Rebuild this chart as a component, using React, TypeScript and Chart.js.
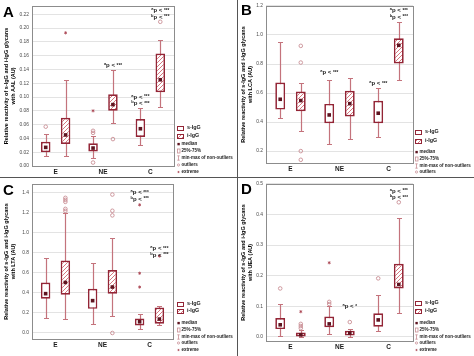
import React, { useEffect, useRef } from 'react';
import { Chart, registerables } from 'chart.js';
Chart.register(...registerables);

// ---------- data ----------
const categories = ['E', 'NE', 'C'];
const seriesNames = ['s-IgG', 'i-IgG'];

// Panel A — AAL
const aalS_q1 = [0.020, 0.021, 0.042];
const aalS_med = [0.027, 0.026, 0.054];
const aalS_q3 = [0.035, 0.033, 0.068];
const aalS_lo = [0.014, 0.011, 0.030];
const aalS_hi = [0.047, 0.043, 0.084];
const aalS_out = [[0.057], [0.051, 0.048, 0.005], []];
const aalS_ext = [[], [0.080], []];
const aalI_q1 = [0.032, 0.080, 0.107];
const aalI_med = [0.045, 0.089, 0.125];
const aalI_q3 = [0.070, 0.104, 0.163];
const aalI_lo = [0.014, 0.062, 0.085];
const aalI_hi = [0.125, 0.139, 0.182];
const aalI_out = [[], [0.039], [0.209]];
const aalI_ext = [[0.193], [], []];

// Panel B — LCA
const lcaS_q1 = [0.486, 0.392, 0.392];
const lcaS_med = [0.557, 0.449, 0.461];
const lcaS_q3 = [0.673, 0.525, 0.547];
const lcaS_lo = [0.429, 0.250, 0.300];
const lcaS_hi = [0.950, 0.689, 0.634];
const lcaS_out = [[], [], []];
const lcaS_ext = [[], [], []];
const lcaI_q1 = [0.475, 0.438, 0.803];
const lcaI_med = [0.548, 0.527, 0.929];
const lcaI_q3 = [0.610, 0.616, 0.977];
const lcaI_lo = [0.340, 0.285, 0.690];
const lcaI_hi = [0.670, 0.707, 1.090];
const lcaI_out = [[0.925, 0.810, 0.200, 0.140], [], []];
const lcaI_ext = [[], [], []];

// Panel C — LTA
const ltaS_q1 = [0.343, 0.241, 0.075];
const ltaS_med = [0.393, 0.323, 0.112];
const ltaS_q3 = [0.505, 0.442, 0.145];
const ltaS_lo = [0.145, 0.092, 0.036];
const ltaS_hi = [0.752, 0.696, 0.185];
const ltaS_out = [[], [], []];
const ltaS_ext = [[], [], [0.459, 0.597, 1.280]];
const ltaI_q1 = [0.383, 0.393, 0.092];
const ltaI_med = [0.505, 0.459, 0.139];
const ltaI_q3 = [0.723, 0.630, 0.254];
const ltaI_lo = [0.139, 0.168, 0.079];
const ltaI_hi = [1.200, 0.944, 0.274];
const ltaI_out = [[1.22, 1.24, 1.31, 1.33, 1.35], [1.383, 1.221, 1.175, 0.0], []];
const ltaI_ext = [[], [], [0.769]];

// Panel D — UEA
const ueaS_q1 = [0.025, 0.031, 0.0325];
const ueaS_med = [0.039, 0.042, 0.055];
const ueaS_q3 = [0.061, 0.066, 0.077];
const ueaS_lo = [0.003, 0.009, 0.0195];
const ueaS_hi = [0.106, 0.101, 0.137];
const ueaS_out = [[0.158], [0.114, 0.107], [0.191]];
const ueaS_ext = [[], [0.242], []];
const ueaI_q1 = [0.001, 0.004, 0.158];
const ueaI_med = [0.0065, 0.012, 0.171];
const ueaI_q3 = [0.014, 0.0195, 0.239];
const ueaI_lo = [0.0, 0.0, 0.076];
const ueaI_hi = [0.023, 0.026, 0.388];
const ueaI_out = [[0.042, 0.035, 0.028], [0.048], [0.44]];
const ueaI_ext = [[0.082], [], []];

const legendLabels = ['median', '25%-75%', 'min-max of non-outliers', 'outliers', 'extreme'];

// ---------- styling ----------
const FONT = "'Liberation Sans', Arial, sans-serif";
const W = 237;
const H = 178;
const BOX = '#932536';
const WHISK = '#c4737c';
const MED = '#5e1420';
const OUTC = '#c98f95';
const EXTC = '#a8404e';

type Series = { q1: number[]; med: number[]; q3: number[]; lo: number[]; hi: number[]; out: number[][]; ext: number[][] };
type Note = { cat: number; ser: number; sups: string[]; stars: string; gap?: number };
type Panel = {
  letter: string; lectin: string; s: Series; i: Series;
  min: number; max: number; step: number; dec: number;
  area: { left: number; right: number; top: number; bottom: number };
  legendY: number[]; legendX: number; showExtreme: boolean; notes: Note[];
  pos: { x: number; y: number }; letterX: number; letterY: number;
};

const panels: Panel[] = [
  {
    letter: 'A', lectin: 'AAL',
    s: { q1: aalS_q1, med: aalS_med, q3: aalS_q3, lo: aalS_lo, hi: aalS_hi, out: aalS_out, ext: aalS_ext },
    i: { q1: aalI_q1, med: aalI_med, q3: aalI_q3, lo: aalI_lo, hi: aalI_hi, out: aalI_out, ext: aalI_ext },
    min: 0, max: 0.232, step: 0.02, dec: 2,
    area: { left: 32, right: 174, top: 5, bottom: 166 },
    legendY: [128, 136, 144, 151, 158, 165, 172], legendX: 177, showExtreme: true,
    notes: [
      { cat: 1, ser: 1, sups: ['a'], stars: '***' },
      { cat: 2, ser: 0, sups: ['a', 'b'], stars: '***' },
      { cat: 2, ser: 1, sups: ['a', 'b'], stars: '***' },
    ],
    pos: { x: 0, y: 0 }, letterX: 3, letterY: 17,
  },
  {
    letter: 'B', lectin: 'LCA',
    s: { q1: lcaS_q1, med: lcaS_med, q3: lcaS_q3, lo: lcaS_lo, hi: lcaS_hi, out: lcaS_out, ext: lcaS_ext },
    i: { q1: lcaI_q1, med: lcaI_med, q3: lcaI_q3, lo: lcaI_lo, hi: lcaI_hi, out: lcaI_out, ext: lcaI_ext },
    min: 0.118, max: 1.2, step: 0.2, dec: 1,
    area: { left: 29, right: 176, top: 5, bottom: 163 },
    legendY: [132, 141, 152, 159, 166, 172], legendX: 178, showExtreme: false,
    notes: [
      { cat: 1, ser: 0, sups: ['a'], stars: '***', gap: 8 },
      { cat: 2, ser: 0, sups: ['a'], stars: '***' },
      { cat: 2, ser: 1, sups: ['a', 'b'], stars: '***' },
    ],
    pos: { x: 237, y: 0 }, letterX: 4, letterY: 15,
  },
  {
    letter: 'C', lectin: 'LTA',
    s: { q1: ltaS_q1, med: ltaS_med, q3: ltaS_q3, lo: ltaS_lo, hi: ltaS_hi, out: ltaS_out, ext: ltaS_ext },
    i: { q1: ltaI_q1, med: ltaI_med, q3: ltaI_q3, lo: ltaI_lo, hi: ltaI_hi, out: ltaI_out, ext: ltaI_ext },
    min: -0.06, max: 1.489, step: 0.2, dec: 1,
    area: { left: 32, right: 173, top: 5, bottom: 161 },
    legendY: [126, 133, 145, 152, 159, 165, 172], legendX: 177, showExtreme: true,
    notes: [
      { cat: 2, ser: 0, sups: ['a', 'b'], stars: '***', gap: 6 },
      { cat: 2, ser: 1, sups: ['a', 'b'], stars: '***', gap: 1.5 },
    ],
    pos: { x: 0, y: 178 }, letterX: 3, letterY: 17,
  },
  {
    letter: 'D', lectin: 'UEA',
    s: { q1: ueaS_q1, med: ueaS_med, q3: ueaS_q3, lo: ueaS_lo, hi: ueaS_hi, out: ueaS_out, ext: ueaS_ext },
    i: { q1: ueaI_q1, med: ueaI_med, q3: ueaI_q3, lo: ueaI_lo, hi: ueaI_hi, out: ueaI_out, ext: ueaI_ext },
    min: -0.014, max: 0.5, step: 0.1, dec: 1,
    area: { left: 29, right: 176, top: 5, bottom: 163 },
    legendY: [125, 133, 145, 152, 159, 165, 172], legendX: 178, showExtreme: true,
    notes: [
      { cat: 1, ser: 1, sups: ['a'], stars: '*', gap: 16 },
      { cat: 2, ser: 1, sups: ['a', 'b'], stars: '***' },
    ],
    pos: { x: 237, y: 178 }, letterX: 4, letterY: 16,
  },
];

function makePattern(): CanvasPattern | string {
  const c = document.createElement('canvas');
  c.width = 4; c.height = 4;
  const g = c.getContext('2d');
  if (!g) return '#fff';
  g.fillStyle = '#fff';
  g.fillRect(0, 0, 4, 4);
  g.strokeStyle = '#d57880';
  g.lineWidth = 1;
  g.beginPath();
  g.moveTo(0, 4); g.lineTo(4, 0);
  g.moveTo(-1, 1); g.lineTo(1, -1);
  g.moveTo(3, 5); g.lineTo(5, 3);
  g.stroke();
  return g.createPattern(c, 'repeat') || '#fff';
}

function drawAsterisk(ctx: CanvasRenderingContext2D, x: number, y: number, r: number) {
  ctx.beginPath();
  for (let k = 0; k < 3; k++) {
    const a = (Math.PI / 3) * k + Math.PI / 2;
    ctx.moveTo(x - r * Math.cos(a), y - r * Math.sin(a));
    ctx.lineTo(x + r * Math.cos(a), y + r * Math.sin(a));
  }
  ctx.stroke();
}

function drawNote(ctx: CanvasRenderingContext2D, cx: number, cy: number, sup: string, stars: string) {
  const fSup = `bold 4px ${FONT}`;
  const fMain = `bold 6px ${FONT}`;
  const fStar = `bold 4.6px ${FONT}`;
  const main = 'p < ';
  ctx.font = fSup; const w1 = ctx.measureText(sup).width;
  ctx.font = fMain; const w2 = ctx.measureText(main).width;
  ctx.font = fStar; const w3 = ctx.measureText(stars).width;
  let x = cx - (w1 + w2 + w3) / 2;
  const base = cy + 2;
  ctx.fillStyle = '#1a1a1a';
  ctx.textAlign = 'left';
  ctx.textBaseline = 'alphabetic';
  ctx.font = fSup; ctx.fillText(sup, x, base - 2); x += w1;
  ctx.font = fMain; ctx.fillText(main, x, base); x += w2;
  ctx.font = fStar; ctx.fillText(stars, x, base - 0.5);
}

function makeExtras(p: Panel, pattern: CanvasPattern | string) {
  const series = [p.s, p.i];
  return {
    id: 'boxExtras' + p.letter,
    beforeDatasetsDraw(chart: any) {
      const ctx: CanvasRenderingContext2D = chart.ctx;
      const ys = chart.scales.y;
      ctx.save();
      ctx.strokeStyle = WHISK;
      ctx.lineWidth = 1.2;
      series.forEach((ser, d) => {
        const meta = chart.getDatasetMeta(d);
        ser.q1.forEach((_, j) => {
          const x = Math.round(meta.data[j].x) + 0.5;
          const yh = Math.round(ys.getPixelForValue(ser.hi[j])) + 0.5;
          const yl = Math.round(ys.getPixelForValue(ser.lo[j])) + 0.5;
          ctx.beginPath();
          ctx.moveTo(x, yh); ctx.lineTo(x, yl);
          ctx.moveTo(x - 2.5, yh); ctx.lineTo(x + 2.5, yh);
          ctx.moveTo(x - 2.5, yl); ctx.lineTo(x + 2.5, yl);
          ctx.stroke();
        });
      });
      ctx.restore();
    },
    afterDatasetsDraw(chart: any) {
      const ctx: CanvasRenderingContext2D = chart.ctx;
      const ys = chart.scales.y;
      ctx.save();
      series.forEach((ser, d) => {
        const meta = chart.getDatasetMeta(d);
        ser.q1.forEach((_, j) => {
          const x = meta.data[j].x;
          ctx.fillStyle = MED;
          const ym = ys.getPixelForValue(ser.med[j]);
          ctx.fillRect(x - 1.8, ym - 1.8, 3.6, 3.6);
          ctx.strokeStyle = OUTC;
          ctx.lineWidth = 0.9;
          ser.out[j].forEach((v) => {
            ctx.beginPath();
            ctx.arc(x, ys.getPixelForValue(v), 1.8, 0, Math.PI * 2);
            ctx.stroke();
          });
          ctx.strokeStyle = EXTC;
          ctx.lineWidth = 0.8;
          ser.ext[j].forEach((v) => drawAsterisk(ctx, x, ys.getPixelForValue(v), 1.6));
        });
      });
      ctx.restore();
    },
    afterDraw(chart: any) {
      const ctx: CanvasRenderingContext2D = chart.ctx;
      const ca = chart.chartArea;
      const ys = chart.scales.y;
      ctx.save();
      // frame
      ctx.strokeStyle = '#8c8c8c';
      ctx.lineWidth = 1;
      ctx.strokeRect(Math.round(ca.left) + 0.5, Math.round(ca.top) + 0.5, Math.round(ca.right - ca.left), Math.round(ca.bottom - ca.top));
      // panel letter
      ctx.fillStyle = '#000';
      ctx.font = `bold 15px ${FONT}`;
      ctx.textAlign = 'left';
      ctx.textBaseline = 'alphabetic';
      ctx.fillText(p.letter, p.letterX, p.letterY);
      // notes
      p.notes.forEach((n) => {
        const ser = series[n.ser];
        const meta = chart.getDatasetMeta(n.ser);
        const x = meta.data[n.cat].x;
        const vals = [ser.hi[n.cat], ...ser.out[n.cat], ...ser.ext[n.cat]];
        const top = Math.min(...vals.map((v) => ys.getPixelForValue(v)));
        const gap = n.gap ?? 5;
        const nLines = n.sups.length;
        n.sups.forEach((s, k) => {
          const cy = top - gap - (nLines - 1 - k) * 6.5;
          drawNote(ctx, x, cy, s, n.stars);
        });
      });
      // legend
      const lx = p.legendX;
      const ly = p.legendY;
      ctx.lineWidth = 1;
      ctx.strokeStyle = BOX;
      ctx.fillStyle = '#fff';
      ctx.fillRect(lx, ly[0] - 2, 6, 4);
      ctx.strokeRect(lx + 0.5, ly[0] - 2 + 0.5, 6, 4);
      ctx.fillStyle = pattern as any;
      ctx.fillRect(lx, ly[1] - 2, 6, 4);
      ctx.strokeRect(lx + 0.5, ly[1] - 2 + 0.5, 6, 4);
      ctx.fillStyle = '#1a1a1a';
      ctx.font = `bold 5.4px ${FONT}`;
      ctx.textBaseline = 'middle';
      ctx.fillText(seriesNames[0], lx + 10, ly[0]);
      ctx.fillText(seriesNames[1], lx + 10, ly[1]);
      const mx = lx + 1.5;
      const tx = lx + 4.5;
      // median
      ctx.fillStyle = MED;
      ctx.fillRect(mx - 1.1, ly[2] - 1.1, 2.4, 2.4);
      // 25-75
      ctx.strokeStyle = OUTC;
      ctx.lineWidth = 0.8;
      ctx.strokeRect(lx + 0.5, ly[3] - 2, 2.5, 4);
      // min-max
      ctx.beginPath();
      ctx.moveTo(mx, ly[4] - 2.2); ctx.lineTo(mx, ly[4] + 2.2);
      ctx.moveTo(mx - 1.2, ly[4] - 2.2); ctx.lineTo(mx + 1.2, ly[4] - 2.2);
      ctx.moveTo(mx - 1.2, ly[4] + 2.2); ctx.lineTo(mx + 1.2, ly[4] + 2.2);
      ctx.stroke();
      // outliers
      ctx.beginPath();
      ctx.arc(mx, ly[5], 1.1, 0, Math.PI * 2);
      ctx.stroke();
      if (p.showExtreme) {
        ctx.strokeStyle = EXTC;
        ctx.lineWidth = 0.6;
        drawAsterisk(ctx, mx, ly[6], 1.1);
      }
      ctx.fillStyle = '#1a1a1a';
      ctx.font = `bold 4.5px ${FONT}`;
      const nItems = p.showExtreme ? 5 : 4;
      for (let k = 0; k < nItems; k++) ctx.fillText(legendLabels[k], tx, ly[2 + k]);
      ctx.restore();
    },
  };
}

function PanelChart({ p }: { p: Panel }) {
  const ref = useRef<HTMLCanvasElement>(null);
  useEffect(() => {
    const canvas = ref.current;
    if (!canvas) return;
    const pattern = makePattern();
    const mk = (ser: Series) => ser.q1.map((v, j) => [v, ser.q3[j]]);
    const chart = new Chart(canvas, {
      type: 'bar',
      data: {
        labels: categories,
        datasets: [
          { label: seriesNames[0], data: mk(p.s) as any, backgroundColor: '#fff', borderColor: BOX, borderWidth: 1.7, borderSkipped: false, categoryPercentage: 0.84, barPercentage: 0.48 } as any,
          { label: seriesNames[1], data: mk(p.i) as any, backgroundColor: pattern as any, borderColor: BOX, borderWidth: 1.7, borderSkipped: false, categoryPercentage: 0.84, barPercentage: 0.48 } as any,
        ],
      },
      options: {
        responsive: false,
        animation: false,
        devicePixelRatio: 1,
        layout: { padding: { left: 0, top: p.area.top, right: W - p.area.right, bottom: 0 } },
        plugins: { legend: { display: false }, tooltip: { enabled: false } },
        scales: {
          x: {
            grid: { display: false, drawTicks: false },
            border: { display: false },
            ticks: { font: { family: FONT, size: 6.5, weight: 'bold' }, color: '#1a1a1a', padding: 2 },
            afterFit: (s: any) => { s.height = H - p.area.bottom; },
          },
          y: {
            min: p.min,
            max: p.max,
            grid: { color: '#e3e3e3', drawTicks: false },
            border: { display: false },
            ticks: {
              stepSize: p.step,
              includeBounds: false,
              font: { family: FONT, size: 4.9 },
              color: '#4a4a4a',
              padding: 3,
              callback: (v: any) => Number(v).toFixed(p.dec),
            },
            title: {
              display: true,
              text: ['Relative reactivity of s-IgG and i-IgG glycans', `with ${p.lectin} (AU)`],
              font: { family: FONT, size: 5.5, weight: 'bold', lineHeight: 1.3 },
              color: '#000',
              padding: { top: 3, bottom: 0 },
            },
            afterFit: (s: any) => { s.width = p.area.left; },
          },
        },
      } as any,
      plugins: [makeExtras(p, pattern) as any],
    });
    return () => chart.destroy();
  }, [p]);
  return (
    <canvas
      ref={ref}
      width={W}
      height={H}
      style={{ position: 'absolute', left: p.pos.x, top: p.pos.y, width: W, height: H }}
    />
  );
}

export default function App() {
  return (
    <div style={{ position: 'absolute', left: 0, top: 0, width: 474, height: 356, background: '#fff', overflow: 'hidden' }}>
      {panels.map((p) => (
        <PanelChart key={p.letter} p={p} />
      ))}
      <div style={{ position: 'absolute', left: 0, top: 176.5, width: 474, height: 1.5, background: '#555' }} />
      <div style={{ position: 'absolute', left: 236.5, top: 0, width: 1.5, height: 356, background: '#555' }} />
    </div>
  );
}
